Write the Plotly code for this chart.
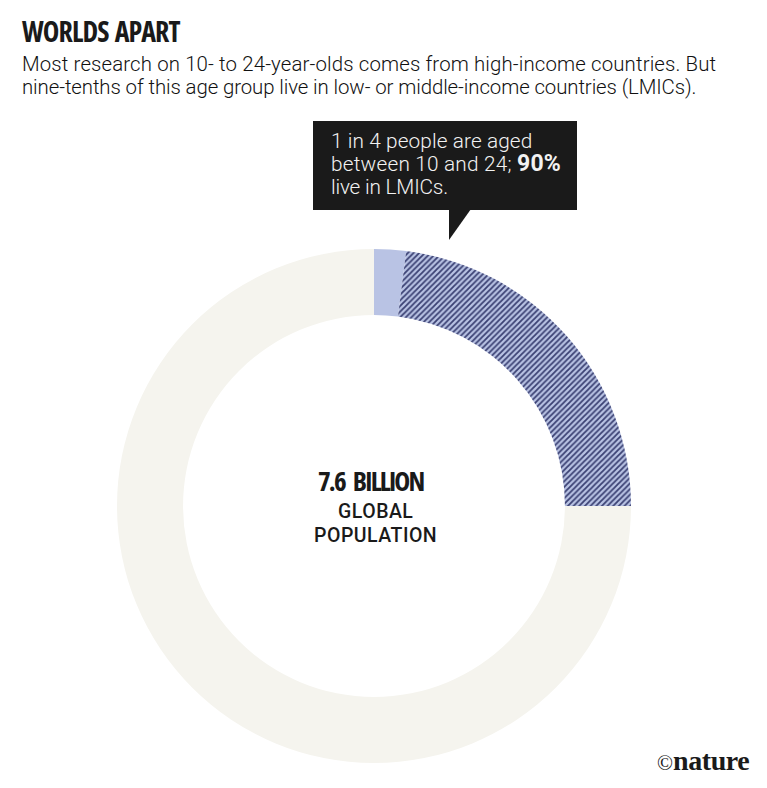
import plotly.graph_objects as go

# page body has an 8px margin, so the figure starts at (8, 8) in the window
OFF = 8
W = 767 - OFF
H = 788 - OFF

# share of world population, clockwise from 12 o'clock
slice_names = ["10-24 in high-income countries", "10-24 in LMICs", "Everyone else"]
slice_values = [2.0, 23.0, 75.0]
slice_colors = ["#b9c3e4", "#b9c3e4", "#f5f4ee"]
slice_shapes = ["", "/", ""]

title = "WORLDS APART"
subtitle_lines = [
    "Most research on 10- to 24-year-olds comes from high-income countries. But",
    "nine-tenths of this age group live in low- or middle-income countries (LMICs).",
]
callout_lines = [
    "1 in 4 people are aged",
    'between 10 and 24; <span style="font-size:23px;font-weight:700;">90%</span>',
    "live in LMICs.",
]
centre_big = "7.6 BILLION"
centre_small = ["GLOBAL", "POPULATION"]

NARROW = "font-stretch:condensed;"


def px(x):
    return (x - OFF) / W


def py(y):
    return 1 - (y - OFF) / H


def label(x, y, text, size, color="#1a1a1a", family="Roboto", anchor="left", weight=None, style=""):
    if style:
        text = f'<span style="{style}">{text}</span>'
    fig.add_annotation(
        x=px(x), y=py(y), xref="paper", yref="paper", text=text, showarrow=False,
        xanchor=anchor, yanchor="middle", align=anchor,
        font=dict(family=family, size=size, color=color, weight=weight),
        borderpad=0, borderwidth=0,
    )


fig = go.Figure(go.Pie(
    labels=slice_names,
    values=slice_values,
    sort=False,
    direction="clockwise",
    rotation=0,
    hole=0.743,
    textinfo="none",
    hoverinfo="skip",
    showlegend=False,
    domain=dict(x=[px(117), px(631)], y=[py(763), py(249)]),
    marker=dict(
        colors=slice_colors,
        line=dict(width=0),
        pattern=dict(shape=slice_shapes, fgcolor="#3b4173", bgcolor="#b9c3e4",
                     size=4, solidity=0.45, fillmode="replace"),
    ),
))

fig.update_layout(width=W, height=H, margin=dict(l=0, r=0, t=0, b=0),
                  paper_bgcolor="white", plot_bgcolor="white", autosize=False)

# callout box and its tail
fig.add_shape(type="rect", xref="paper", yref="paper", x0=px(313), x1=px(577), y0=py(210), y1=py(121),
              fillcolor="#1a1a1a", line_width=0, layer="above")
fig.add_shape(type="path", xref="paper", yref="paper",
              path=f"M {px(449)} {py(209)} L {px(471)} {py(209)} L {px(449)} {py(240)} Z",
              fillcolor="#1a1a1a", line_width=0, layer="above")

label(22, 31, title, 28, family="Open Sans", weight=700,
      style=NARROW + "letter-spacing:-0.9px;word-spacing:2px;")
label(22, 64, subtitle_lines[0], 20.4, color="#111111", weight=300, style="letter-spacing:0.13px;")
label(22, 87, subtitle_lines[1], 20.4, color="#111111", weight=300, style="letter-spacing:-0.1px;")

for y, line, spacing in zip([141, 164, 187], callout_lines, [0.1, 0.2, -0.2]):
    label(331, y, line, 20.8, color="#f2f2f2", weight=300, style=f"letter-spacing:{spacing}px;")

label(371, 481, centre_big, 27, family="Open Sans", anchor="center", weight=700,
      style=NARROW + "letter-spacing:-1.8px;word-spacing:5px;")
label(375, 511, centre_small[0], 19.5, anchor="center", weight=500, style="letter-spacing:0.5px;")
label(375, 535, centre_small[1], 19.5, anchor="center", weight=500, style="letter-spacing:0.5px;")

label(749, 760, '<span style="font-size:21px;font-weight:400;">©</span><span style="letter-spacing:-0.4px;">nature</span>',
      28, family="Liberation Serif", anchor="right", weight=700)

fig.write_html("out.html")
